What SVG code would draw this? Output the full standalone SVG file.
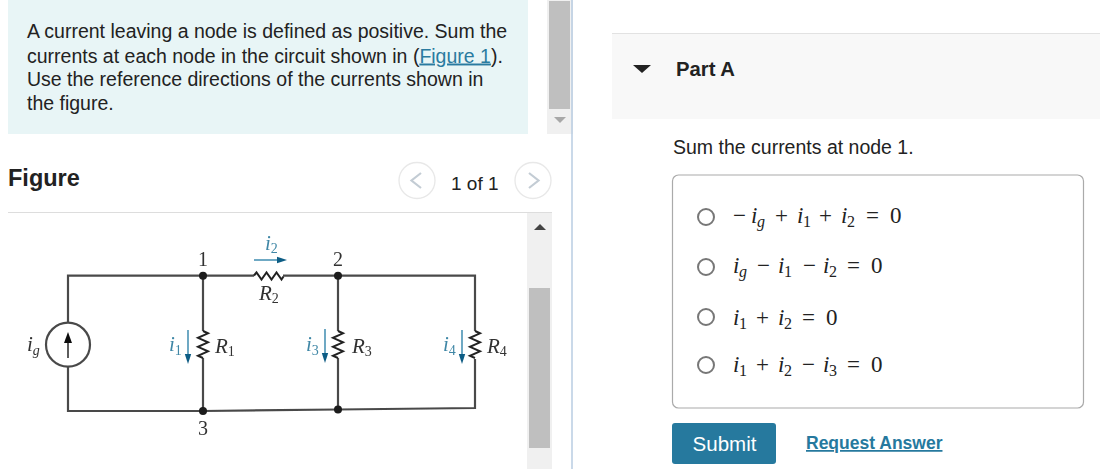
<svg xmlns="http://www.w3.org/2000/svg" width="1100" height="469" viewBox="0 0 1100 469">
<defs><filter id="soft" x="-5%" y="-5%" width="110%" height="110%"><feGaussianBlur stdDeviation="0.45"/></filter></defs>
<style>
.t{font-family:"Liberation Sans",Arial,sans-serif;font-size:19.5px;fill:#222}
.b{font-weight:bold}
.w{fill:none;stroke:#4a4a4a;stroke-width:2.2}
.r{fill:none;stroke:#222;stroke-width:2;stroke-linejoin:miter}
.d{fill:#1c1c1c}
.c{font-family:"Liberation Serif",serif;font-size:20px;fill:#333}
.ci{font-family:"Liberation Serif",serif;font-size:21px;font-style:italic;fill:#333}
.cb{font-family:"Liberation Serif",serif;font-size:21px;font-style:italic;fill:#3f87a6}
.s{font-size:14px;font-style:normal}
.ar{stroke:#4b93b5;stroke-width:1.6;fill:none}
.ah{fill:#0f5d85}
.m{font-family:"Liberation Serif",serif;font-size:23px;fill:#222}
.i{font-style:italic}
.sub{font-size:16px}
.rad{fill:#fff;stroke:#777;stroke-width:2}
.sb{fill:#f0f0f0}.th{fill:#bfbfbf}
.nav{fill:#fff;stroke:#e8e8e8;stroke-width:1.3}
.chev{fill:none;stroke:#c3ccd4;stroke-width:2.2}
</style>

<g id="prompt">
<rect x="8" y="0" width="520" height="134" fill="#e8f5f6"/>
<text class="t" x="27" y="38">A current leaving a node is defined as positive. Sum the</text>
<text class="t" x="27" y="62.500">currents at each node in the circuit shown in (<tspan fill="#2a7ba0" text-decoration="underline">Figure 1</tspan>).</text>
<text class="t" x="27" y="86">Use the reference directions of the currents shown in</text>
<text class="t" x="27" y="110">the figure.</text>
</g>

<g id="scrollbar-top">
<rect class="sb" x="547" y="0" width="26" height="134"/>
<rect class="th" x="549" y="1" width="21" height="108"/>
<path d="M554 117h12l-6 6z" fill="#a8a8a8"/>
</g>
<path d="M572 0V469" stroke="#b9cde2" stroke-width="1.5" fill="none"/>

<g id="figure-header">
<text class="t b" x="8" y="186" style="font-size:23.500px">Figure</text>
<circle class="nav" cx="417" cy="180.500" r="18"/>
<path class="chev" d="M421 173l-9.500 7.500 9.500 7.500"/>
<text class="t" x="451" y="190" style="font-size:19px">1 of 1</text>
<circle class="nav" cx="533" cy="180.500" r="18"/>
<path class="chev" d="M529 173l9.500 7.500-9.500 7.500"/>
<path d="M8 212.500H552" stroke="#ddd" stroke-width="1.200"/>
</g>

<g id="scrollbar-figure">
<rect class="sb" x="527" y="213" width="25" height="256"/>
<rect class="th" x="529" y="288" width="21" height="160"/>
<path d="M534 230h12l-6-6z" fill="#444"/>
</g>

<g filter="url(#soft)">
<g id="connectors">
<path class="w" d="M68 323V275.700H254M283 275.700H475V331"/>
<path class="w" d="M68 367V411H203L338 409.500L475 408V359"/>
<path class="w" d="M203 275.700V331M203 358V411"/>
<path class="w" d="M338 275.700V331M338 358V409.500"/>
</g>

<g id="source-ig">
<circle cx="68" cy="344.700" r="22" fill="#fff" stroke="#4a4a4a" stroke-width="2.200"/>
<path d="M68 358V340" stroke="#333" stroke-width="1.600"/>
<path d="M68 332l-4 11h8z" fill="#111"/>
<text class="ci" x="27" y="351">i<tspan class="s" dy="4" style="font-style:italic">g</tspan></text>
</g>

<g id="node-1"><circle class="d" cx="203" cy="275.700" r="4"/><text class="c" x="203" y="266" text-anchor="middle">1</text></g>
<g id="node-2"><circle class="d" cx="338" cy="275.700" r="4"/><text class="c" x="338" y="266" text-anchor="middle">2</text></g>
<g id="node-3"><circle class="d" cx="203" cy="411" r="4"/><text class="c" x="203" y="435" text-anchor="middle">3</text></g>
<g id="node-4"><circle class="d" cx="338" cy="409.500" r="4"/></g>

<g id="R2">
<path class="r" d="M254 275.500l2.500-3 5 7 5-7 5 7 5-7 5 7 2-3"/>
<text class="ci" x="259" y="300">R<tspan class="s" dy="3">2</tspan></text>
<path class="ar" d="M254 260H277"/>
<path class="ah" d="M287 260l-10-3.200v6.400z"/>
<text class="cb" x="265" y="250">i<tspan class="s" dy="3">2</tspan></text>
</g>

<g id="R1">
<path class="r" d="M203 331l5 2.300-10 4.500 10 4.500-10 4.500 10 4.500-10 4.500 5 2.200"/>
<text class="ci" x="215" y="353">R<tspan class="s" dy="3">1</tspan></text>
<path class="ar" d="M188 330V354"/>
<path class="ah" d="M188 364l-3.200-10h6.400z"/>
<text class="cb" x="169" y="351">i<tspan class="s" dy="4">1</tspan></text>
</g>

<g id="R3">
<path class="r" d="M338 331l5 2.300-10 4.500 10 4.500-10 4.500 10 4.500-10 4.500 5 2.200"/>
<text class="ci" x="352" y="353">R<tspan class="s" dy="3">3</tspan></text>
<path class="ar" d="M325 329V353"/>
<path class="ah" d="M325 363l-3.200-10h6.400z"/>
<text class="cb" x="306" y="351">i<tspan class="s" dy="4">3</tspan></text>
</g>

<g id="R4">
<path class="r" d="M475 331l5 2.300-10 4.500 10 4.500-10 4.500 10 4.500-10 4.500 5 2.200"/>
<text class="ci" x="487" y="353">R<tspan class="s" dy="3">4</tspan></text>
<path class="ar" d="M462 330V354"/>
<path class="ah" d="M462 364l-3.200-10h6.400z"/>
<text class="cb" x="443" y="351">i<tspan class="s" dy="4">4</tspan></text>
</g>
</g>

<g id="part-a">
<rect x="612" y="34" width="488" height="85" fill="#f8f8f8"/>
<path d="M612 33.500H1100" stroke="#e2e2e2" stroke-width="1"/>
<path d="M633 65h18l-9 8z" fill="#222"/>
<text class="t b" x="676" y="76" style="font-size:20.300px">Part A</text>
</g>

<text class="t" x="673" y="154">Sum the currents at node 1.</text>

<g id="answers">
<rect x="672.500" y="175" width="411" height="233" rx="6" fill="#fff" stroke="#aaa" stroke-width="1.200"/>
<circle class="rad" cx="706" cy="217" r="8"/>
<text class="m" y="223"><tspan x="733">−</tspan><tspan x="751" class="i">i</tspan><tspan x="757" class="sub i" dy="4">g</tspan><tspan x="775" dy="-4">+</tspan><tspan x="797" class="i">i</tspan><tspan x="803" class="sub" dy="4">1</tspan><tspan x="819" dy="-4">+</tspan><tspan x="841" class="i">i</tspan><tspan x="847" class="sub" dy="4">2</tspan><tspan x="866" dy="-4">=</tspan><tspan x="890">0</tspan></text>
<circle class="rad" cx="706" cy="267" r="8"/>
<text class="m" y="273"><tspan x="733" class="i">i</tspan><tspan x="739" class="sub i" dy="4">g</tspan><tspan x="757" dy="-4">−</tspan><tspan x="778" class="i">i</tspan><tspan x="784" class="sub" dy="4">1</tspan><tspan x="803" dy="-4">−</tspan><tspan x="823" class="i">i</tspan><tspan x="829" class="sub" dy="4">2</tspan><tspan x="847" dy="-4">=</tspan><tspan x="871">0</tspan></text>
<circle class="rad" cx="706" cy="317" r="8"/>
<text class="m" y="325"><tspan x="733" class="i">i</tspan><tspan x="739" class="sub" dy="4">1</tspan><tspan x="756" dy="-4">+</tspan><tspan x="778" class="i">i</tspan><tspan x="784" class="sub" dy="4">2</tspan><tspan x="802" dy="-4">=</tspan><tspan x="826">0</tspan></text>
<circle class="rad" cx="706" cy="365" r="8"/>
<text class="m" y="372"><tspan x="733" class="i">i</tspan><tspan x="739" class="sub" dy="4">1</tspan><tspan x="756" dy="-4">+</tspan><tspan x="778" class="i">i</tspan><tspan x="784" class="sub" dy="4">2</tspan><tspan x="802" dy="-4">−</tspan><tspan x="823" class="i">i</tspan><tspan x="829" class="sub" dy="4">3</tspan><tspan x="847" dy="-4">=</tspan><tspan x="871">0</tspan></text>
</g>

<g id="submit">
<rect x="672" y="423" width="104" height="41" rx="3" fill="#26799e"/>
<text class="t" x="724.500" y="451" text-anchor="middle" style="fill:#fff;font-size:20.500px">Submit</text>
</g>
<text id="request-answer" class="t b" x="806" y="449" style="font-size:17.500px;fill:#26799e" text-decoration="underline">Request Answer</text>
</svg>
